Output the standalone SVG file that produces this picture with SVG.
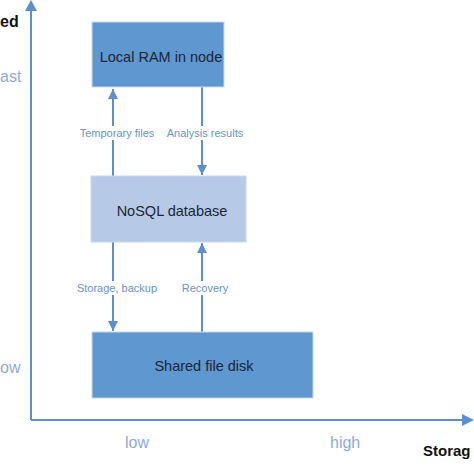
<svg xmlns="http://www.w3.org/2000/svg" width="474" height="474" viewBox="0 0 474 474">
<style>
.box{stroke:#c9d7ec;stroke-width:1}
.dark{fill:#5f97d0}
.light{fill:#b6c9e6}
.btxt{font-family:"Liberation Sans",Arial,sans-serif;font-size:14.5px;fill:#1c2636;text-anchor:middle}
.lbl{font-family:"Liberation Sans",Arial,sans-serif;font-size:11px;fill:#6a93c6;text-anchor:middle}
.axl{font-family:"Liberation Sans",Arial,sans-serif;font-size:16px;fill:#8fabd6}
.axt{font-family:"Liberation Sans",Arial,sans-serif;font-size:16px;font-weight:bold;fill:#111}
.ln{stroke:#5d8fcc;stroke-width:2;fill:none}
</style>
<defs>
<marker id="ah" viewBox="0 0 10 10" refX="10" refY="5" markerWidth="5" markerHeight="5" orient="auto" markerUnits="strokeWidth">
<path d="M0,0 L10,5 L0,10 z" fill="#5d8fcc"/>
</marker>
</defs>
<g id="axes">
<path class="ln" d="M31,420 L31,10"/>
<path d="M25,11 L31,0 L37,11 z" fill="#5d8fcc"/>
<path class="ln" d="M31,420 L463,420"/>
<path d="M462,414 L474,420 L462,426 z" fill="#5d8fcc"/>
<text class="axt" x="0" y="27">ed</text>
<text class="axl" x="0" y="82">ast</text>
<text class="axl" x="0" y="373">ow</text>
<text class="axl" x="125" y="448">low</text>
<text class="axl" x="330" y="448">high</text>
<text class="axt" x="423" y="456" style="font-size:15px">Storag</text>
</g>
<g id="connectors">
<path class="ln" d="M113,176 L113,89" marker-end="url(#ah)"/>
<path class="ln" d="M202,87 L202,175" marker-end="url(#ah)"/>
<path class="ln" d="M113,242 L113,331" marker-end="url(#ah)"/>
<path class="ln" d="M202,332 L202,243" marker-end="url(#ah)"/>
<rect x="74" y="126" width="86" height="14" fill="#fff"/>
<rect x="163" y="126" width="86" height="14" fill="#fff"/>
<rect x="74" y="281" width="86" height="14" fill="#fff"/>
<rect x="178" y="281" width="54" height="14" fill="#fff"/>
<text class="lbl" x="117" y="137">Temporary files</text>
<text class="lbl" x="205" y="137">Analysis results</text>
<text class="lbl" x="117" y="292">Storage, backup</text>
<text class="lbl" x="205" y="292">Recovery</text>
</g>
<g id="ram">
<rect class="box dark" x="92" y="22" width="132" height="65"/>
<text class="btxt" x="161" y="62">Local RAM in node</text>
</g>
<g id="nosql">
<rect class="box light" x="91" y="176" width="155" height="66"/>
<text class="btxt" x="172" y="216">NoSQL database</text>
</g>
<g id="disk">
<rect class="box dark" x="92" y="332" width="221" height="66"/>
<text class="btxt" x="204" y="371">Shared file disk</text>
</g>
</svg>
